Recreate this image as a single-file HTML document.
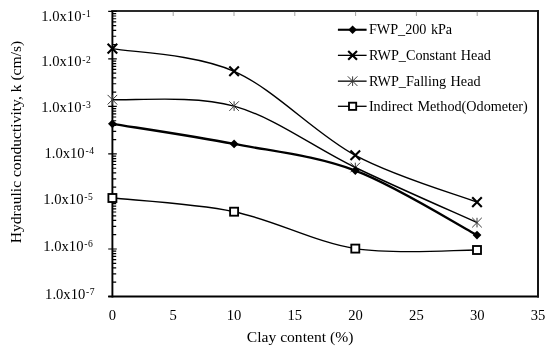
<!DOCTYPE html>
<html lang="en"><head><meta charset="utf-8"><title>Hydraulic conductivity vs clay content</title>
<style>html,body{margin:0;padding:0;background:#fff}svg{display:block}</style></head>
<body>
<svg width="550" height="352" viewBox="0 0 550 352">
<rect width="550" height="352" fill="#fff"/>
<g stroke="#000" fill="none">
<line x1="112.4" y1="10.1" x2="112.4" y2="297.6" stroke-width="1.9"/>
<line x1="108.2" y1="296.6" x2="539.0" y2="296.6" stroke-width="2.0"/>
<line x1="111.5" y1="11.0" x2="539.0" y2="11.0" stroke-width="1.9" stroke="#2a2a2a"/>
<line x1="538.0" y1="10.1" x2="538.0" y2="297.6" stroke-width="2.0" stroke="#151515"/>
<path d="M108.2 11.40 H116.8 M112.4 44.62 H116.2 M112.4 36.25 H116.2 M112.4 30.31 H116.2 M112.4 25.70 H116.2 M112.4 21.94 H116.2 M112.4 18.76 H116.2 M112.4 16.01 H116.2 M112.4 13.57 H116.2 M108.2 58.92 H116.8 M112.4 92.14 H116.2 M112.4 83.77 H116.2 M112.4 77.83 H116.2 M112.4 73.22 H116.2 M112.4 69.46 H116.2 M112.4 66.28 H116.2 M112.4 63.53 H116.2 M112.4 61.09 H116.2 M108.2 106.44 H116.8 M112.4 139.66 H116.2 M112.4 131.29 H116.2 M112.4 125.35 H116.2 M112.4 120.74 H116.2 M112.4 116.98 H116.2 M112.4 113.80 H116.2 M112.4 111.05 H116.2 M112.4 108.61 H116.2 M108.2 153.96 H116.8 M112.4 187.18 H116.2 M112.4 178.81 H116.2 M112.4 172.87 H116.2 M112.4 168.26 H116.2 M112.4 164.50 H116.2 M112.4 161.32 H116.2 M112.4 158.57 H116.2 M112.4 156.13 H116.2 M108.2 201.48 H116.8 M112.4 234.70 H116.2 M112.4 226.33 H116.2 M112.4 220.39 H116.2 M112.4 215.78 H116.2 M112.4 212.02 H116.2 M112.4 208.84 H116.2 M112.4 206.09 H116.2 M112.4 203.65 H116.2 M108.2 249.00 H116.8 M112.4 282.22 H116.2 M112.4 273.85 H116.2 M112.4 267.91 H116.2 M112.4 263.30 H116.2 M112.4 259.54 H116.2 M112.4 256.36 H116.2 M112.4 253.61 H116.2 M112.4 251.17 H116.2 M108.2 296.52 H116.8" stroke-width="1.2"/>
</g>
<path d="M173.20 11.8 V16 M234.00 11.8 V16 M294.80 11.8 V16 M355.60 11.8 V16 M416.40 11.8 V16 M477.20 11.8 V16" stroke="#a3a3a3" stroke-width="1" fill="none"/>
<g fill="none" stroke="#000" stroke-linejoin="round">
<path d="M112.40 48.60 C132.68 52.38 193.62 53.52 234.10 71.30 C274.58 89.08 314.82 133.50 355.30 155.30 C395.78 177.10 456.72 194.30 477.00 202.10" stroke-width="1.4"/>
<path d="M112.40 99.70 C132.68 100.77 193.62 94.80 234.10 106.10 C274.58 117.40 314.82 148.08 355.30 167.50 C395.78 186.92 456.72 213.42 477.00 222.60" stroke-width="1.4"/>
<path d="M112.40 198.00 C132.68 200.28 193.62 203.27 234.10 211.70 C274.58 220.13 314.82 242.22 355.30 248.60 C395.78 254.98 456.72 249.77 477.00 250.00" stroke-width="1.4"/>
<path d="M112.40 123.80 C132.68 127.15 193.62 136.10 234.10 143.90 C274.58 151.70 314.82 155.40 355.30 170.60 C395.78 185.80 456.72 224.35 477.00 235.10" stroke-width="2.3"/>
</g>
<rect x="108.40" y="194.00" width="8.00" height="8.00" fill="#fff" stroke="#000" stroke-width="1.85"/>
<rect x="230.10" y="207.70" width="8.00" height="8.00" fill="#fff" stroke="#000" stroke-width="1.85"/>
<rect x="351.30" y="244.60" width="8.00" height="8.00" fill="#fff" stroke="#000" stroke-width="1.85"/>
<rect x="473.00" y="246.00" width="8.00" height="8.00" fill="#fff" stroke="#000" stroke-width="1.85"/>
<path d="M107.60 94.90 l9.60 9.60 M107.60 104.50 l9.60 -9.60 M112.40 94.90 v9.60" stroke="#3a3a3a" stroke-width="1.0" fill="none"/>
<path d="M229.30 101.30 l9.60 9.60 M229.30 110.90 l9.60 -9.60 M234.10 101.30 v9.60" stroke="#3a3a3a" stroke-width="1.0" fill="none"/>
<path d="M350.50 162.70 l9.60 9.60 M350.50 172.30 l9.60 -9.60 M355.30 162.70 v9.60" stroke="#3a3a3a" stroke-width="1.0" fill="none"/>
<path d="M472.20 217.80 l9.60 9.60 M472.20 227.40 l9.60 -9.60 M477.00 217.80 v9.60" stroke="#3a3a3a" stroke-width="1.0" fill="none"/>
<path d="M107.60 43.80 l9.60 9.60 M107.60 53.40 l9.60 -9.60" stroke="#000" stroke-width="2.1" fill="none" stroke-linecap="butt"/>
<path d="M229.30 66.50 l9.60 9.60 M229.30 76.10 l9.60 -9.60" stroke="#000" stroke-width="2.1" fill="none" stroke-linecap="butt"/>
<path d="M350.50 150.50 l9.60 9.60 M350.50 160.10 l9.60 -9.60" stroke="#000" stroke-width="2.1" fill="none" stroke-linecap="butt"/>
<path d="M472.20 197.30 l9.60 9.60 M472.20 206.90 l9.60 -9.60" stroke="#000" stroke-width="2.1" fill="none" stroke-linecap="butt"/>
<path d="M112.40 119.40 l4.40 4.40 l-4.40 4.40 l-4.40 -4.40 z" fill="#000"/>
<path d="M234.10 139.50 l4.40 4.40 l-4.40 4.40 l-4.40 -4.40 z" fill="#000"/>
<path d="M355.30 166.20 l4.40 4.40 l-4.40 4.40 l-4.40 -4.40 z" fill="#000"/>
<path d="M477.00 230.70 l4.40 4.40 l-4.40 4.40 l-4.40 -4.40 z" fill="#000"/>
<line x1="337.9" y1="29.75" x2="366.6" y2="29.75" stroke="#000" stroke-width="2.1"/>
<line x1="337.9" y1="55.35" x2="366.6" y2="55.35" stroke="#000" stroke-width="1.3"/>
<line x1="337.9" y1="81.15" x2="366.6" y2="81.15" stroke="#000" stroke-width="1.3"/>
<line x1="337.9" y1="106.30" x2="366.6" y2="106.30" stroke="#000" stroke-width="1.3"/>
<path d="M352.60 25.45 l4.30 4.30 l-4.30 4.30 l-4.30 -4.30 z" fill="#000"/>
<path d="M348.20 50.95 l8.80 8.80 M348.20 59.75 l8.80 -8.80" stroke="#000" stroke-width="2.1" fill="none" stroke-linecap="butt"/>
<path d="M347.80 76.35 l9.60 9.60 M347.80 85.95 l9.60 -9.60 M352.60 76.35 v9.60" stroke="#3a3a3a" stroke-width="1.0" fill="none"/>
<rect x="349.00" y="102.70" width="7.20" height="7.20" fill="#fff" stroke="#000" stroke-width="1.85"/>
<g font-family="'Liberation Serif', 'Times New Roman', serif" fill="#000">
<g font-size="14.2" word-spacing="0.9">
<text x="368.9" y="34.35">FWP_200 kPa</text>
<text x="368.9" y="59.95">RWP_Constant Head</text>
<text x="368.9" y="85.75">RWP_Falling Head</text>
<text x="368.9" y="110.90">Indirect Method(Odometer)</text>
</g>
<g font-size="14.6">
<text x="41.3" y="20.9">1.0x10<tspan font-size="9.6" dx="0.8" dy="-3.5" letter-spacing="0.5">-1</tspan></text>
<text x="41.3" y="66.2">1.0x10<tspan font-size="9.6" dx="0.8" dy="-3.5" letter-spacing="0.5">-2</tspan></text>
<text x="41.3" y="111.8">1.0x10<tspan font-size="9.6" dx="0.8" dy="-3.5" letter-spacing="0.5">-3</tspan></text>
<text x="44.5" y="157.5">1.0x10<tspan font-size="9.6" dx="0.8" dy="-3.5" letter-spacing="0.5">-4</tspan></text>
<text x="43.3" y="203.8">1.0x10<tspan font-size="9.6" dx="0.8" dy="-3.5" letter-spacing="0.5">-5</tspan></text>
<text x="43.3" y="250.8">1.0x10<tspan font-size="9.6" dx="0.8" dy="-3.5" letter-spacing="0.5">-6</tspan></text>
<text x="45.1" y="298.7">1.0x10<tspan font-size="9.6" dx="0.8" dy="-3.5" letter-spacing="0.5">-7</tspan></text>
<text x="112.4" y="319.5" text-anchor="middle">0</text>
<text x="173.2" y="319.5" text-anchor="middle">5</text>
<text x="234.0" y="319.5" text-anchor="middle">10</text>
<text x="294.8" y="319.5" text-anchor="middle">15</text>
<text x="355.6" y="319.5" text-anchor="middle">20</text>
<text x="416.4" y="319.5" text-anchor="middle">25</text>
<text x="477.2" y="319.5" text-anchor="middle">30</text>
<text x="538.0" y="319.5" text-anchor="middle">35</text>
</g>
<text x="246.8" y="342.4" font-size="15.6">Clay content (%)</text>
<text transform="translate(21.0 243.3) rotate(-90)" font-size="15.6">Hydraulic conductivity, k (cm/s)</text>
</g>
</svg>
</body></html>
